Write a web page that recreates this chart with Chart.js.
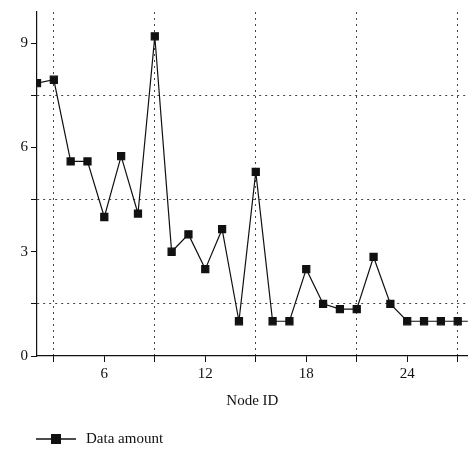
<!DOCTYPE html>
<html><head>
<script src="https://cdn.jsdelivr.net/npm/chart.js@4"></script>
<style>body{margin:0;background:#fff}#w{width:474px;height:474px;position:relative}
#lg{position:absolute;left:36px;top:430px;font:15px "Liberation Serif";color:#111;display:flex;align-items:center}
</style>
</head><body><div id="w"><canvas id="c"></canvas>
<div id="lg"><svg width="40" height="14"><line x1="0" y1="7" x2="40" y2="7" stroke="#111" stroke-width="1.3"/><rect x="15" y="2" width="10" height="10" fill="#111"/></svg><span style="margin-left:10px">Data amount</span></div></div>
<script>
const nodeIds = [2,3,4,5,6,7,8,9,10,11,12,13,14,15,16,17,18,19,20,21,22,23,24,25,26,27,28];
const dataAmount = [7.85,7.95,5.6,5.6,4.0,5.75,4.1,9.2,3.0,3.5,2.5,3.65,1.0,5.3,1.0,1.0,2.5,1.5,1.35,1.35,2.85,1.5,1.0,1.0,1.0,1.0,1.0];
const xTicks = [6,12,18,24];
const yTicks = [0,3,6,9];

const font = {family: "Liberation Serif", size: 15};
new Chart(document.getElementById("c"), {
  type: 'line',
  data: {
    datasets: [{
      label: 'Data amount',
      data: nodeIds.map((x, i) => ({x: x, y: dataAmount[i]})),
      borderColor: '#111',
      backgroundColor: '#111',
      borderWidth: 1.2,
      pointStyle: 'rect',
      pointRadius: 5,
      tension: 0
    }]
  },
  options: {
    responsive: true,
    maintainAspectRatio: false,
    animation: false,
    layout: {padding: {top: 0, right: -8, bottom: 60, left: 0}},
    plugins: {legend: {display: false}, tooltip: {enabled: false}},
    scales: {
      x: {
        type: 'linear', min: 2, max: 27.6,
        afterBuildTicks: s => { s.ticks = [3,6,9,12,15,18,21,24,27].map(v => ({value: v})); },
        ticks: {font: font, color: '#111', callback: v => xTicks.includes(v) ? v : ''},
        grid: {color: c => xTicks.includes(c.tick && c.tick.value) ? 'rgba(0,0,0,0)' : '#444',
               tickColor: '#111', tickLength: 6},
        border: {color: '#111', width: 1.2, dash: [2, 4]},
        title: {display: true, text: 'Node ID', font: font, color: '#111', padding: {top: 6}}
      },
      y: {
        min: 0, max: 9.9,
        afterBuildTicks: s => { s.ticks = [0,1.5,3,4.5,6,7.5,9].map(v => ({value: v})); },
        afterFit: s => { s.width = 37; },
        ticks: {font: font, color: '#111', callback: v => yTicks.includes(v) ? v : ''},
        grid: {color: c => yTicks.includes(c.tick && c.tick.value) ? 'rgba(0,0,0,0)' : '#444',
               tickColor: '#111', tickLength: 6},
        border: {color: '#111', width: 1.2, dash: [2, 4]}
      }
    }
  }
});
</script></body></html>
